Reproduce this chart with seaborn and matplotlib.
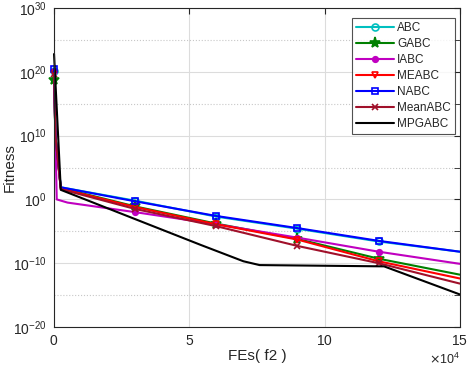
import numpy as np
import pandas as pd
import matplotlib
matplotlib.use("Agg")
import matplotlib.pyplot as plt
import matplotlib.ticker as mticker
import seaborn as sns

# log10(fitness) (f2)
fes = [0, 500, 2500, 30000, 60000, 90000, 120000, 150000]
abc_log = [20.2, 10.0, 1.9, -0.2, -2.7, -4.6, -6.6, -8.2]
gabc_log = [18.8, 10.0, 1.8, -1.1, -3.8, -6.2, -9.3, -11.8]
meabc_log = [19.8, 10.0, 1.7, -1.2, -3.9, -6.3, -9.7, -12.4]
nabc_log = [20.5, 10.0, 1.9, -0.3, -2.6, -4.5, -6.5, -8.2]
meanabc_log = [19.6, 10.0, 1.6, -1.5, -4.2, -7.3, -10.0, -13.2]

iabc_fes = [0, 1000, 5000, 30000, 60000, 90000, 120000, 150000]
iabc_log = [20.1, 0.0, -0.5, -2.0, -3.9, -6.0, -8.2, -10.1]

mpgabc_fes = [0, 2500, 54000, 70000, 76000, 122000, 150000]
mpgabc_log = [22.8, 1.5, -7.1, -9.7, -10.3, -10.5, -14.9]

series = [
    ("ABC", fes, abc_log, "#00bfbf", "o", "none"),
    ("GABC", fes, gabc_log, "#008000", "*", "#008000"),
    ("IABC", iabc_fes, iabc_log, "#c000c0", "o", "#c000c0"),
    ("MEABC", fes, meabc_log, "#ff0000", "v", "none"),
    ("NABC", fes, nabc_log, "#0000ff", "s", "none"),
    ("MeanABC", fes, meanabc_log, "#a0102a", "x", "#a0102a"),
    ("MPGABC", mpgabc_fes, mpgabc_log, "#000000", None, "none"),
]
mark_idx = [0, 3, 4, 5, 6]
msize = {"o": 5, "*": 8, "v": 5, "s": 5, "x": 4}

sns.set_style("white")
plt.rcParams["font.family"] = ["Liberation Sans", "DejaVu Sans"]

fig = plt.figure(figsize=(4.74, 3.69), dpi=100)
ax = fig.add_axes([0.114, 0.114, 0.856, 0.864])

for name, x, y, col, mk, fc in series:
    df = pd.DataFrame({"FEs": x, "Fitness": 10.0 ** np.array(y)})
    kw = dict(color=col, linewidth=1.5, label=name, sort=False, clip_on=False)
    if mk is not None:
        ms = 4 if name == "IABC" else msize[mk]
        kw.update(marker=mk, markevery=mark_idx, markerfacecolor=fc,
                  markeredgecolor=col, markersize=ms, markeredgewidth=1.2)
    sns.lineplot(data=df, x="FEs", y="Fitness", ax=ax, **kw)

ax.set_yscale("log")
ax.set_ylim(1e-20, 1e30)
ax.set_xlim(0, 150000)
ax.yaxis.set_major_locator(mticker.FixedLocator([10.0 ** k for k in range(-20, 31, 10)]))
ax.yaxis.set_minor_locator(mticker.FixedLocator([10.0 ** k for k in range(-15, 30, 10)]))
ax.yaxis.set_minor_formatter(mticker.NullFormatter())
ax.set_xticks([0, 50000, 100000, 150000])
ax.ticklabel_format(axis="x", style="sci", scilimits=(4, 4), useMathText=True)

ax.grid(True, which="major", color="#dcdcdc", linewidth=0.8, linestyle="-")
ax.grid(True, which="minor", axis="y", color="#c8c8c8", linewidth=0.8, linestyle=":")
ax.set_axisbelow(True)

for sp in ax.spines.values():
    sp.set_color("#262626")
    sp.set_linewidth(0.8)
ax.tick_params(which="both", direction="in", top=True, right=True, length=4,
               labelsize=10, colors="#262626", pad=5)
ax.xaxis.get_offset_text().set_fontsize(9)
ax.xaxis.get_offset_text().set_color("#262626")

ax.set_xlabel("FEs( f2 )", fontsize=11, labelpad=1)
ax.set_ylabel("Fitness", fontsize=11)
ax.yaxis.set_label_coords(-0.092, 0.5)

leg = ax.legend(loc="upper right", bbox_to_anchor=(0.988, 0.968), fontsize=8.5,
                frameon=True, fancybox=False, handlelength=3.2, borderpad=0.35,
                labelspacing=0.33, handletextpad=0.25, borderaxespad=0.0)
leg.get_frame().set_edgecolor("#262626")
leg.get_frame().set_linewidth(0.8)

fig.savefig("out.png", dpi=100)
